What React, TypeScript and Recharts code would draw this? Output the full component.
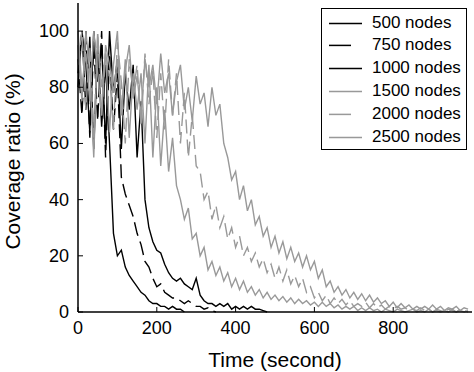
import { LineChart, Line, XAxis, YAxis, Label } from "recharts";

// time grid, one sample every 10 s
const times = Array.from({ length: 100 }, (_, i) => i * 10);

const xTicks = [0, 200, 400, 600, 800];
const yTicks = [0, 20, 40, 60, 80, 100];

// coverage ratio (%) per series
const nodes500 = [
  85, 100, 72, 98, 58, 95, 66, 88, 60, 28, 20, 22, 16, 13, 11, 9, 7, 6, 4, 3,
  3, 2, 2, 1, 2, 1, 1, 0,
];

const nodes750 = [
  90, 70, 100, 62, 95, 68, 100, 55, 92, 65, 85, 48, 42, 38, 34, 28, 24, 18, 16, 12,
  9, 10, 7, 6, 5, 5, 4, 3, 4, 3, 2, 2, 1, 1.5, 0.5, 0,
];

const nodes1000 = [
  80, 100, 88, 64, 100, 82, 95, 60, 100, 78, 90, 58, 85, 72, 88, 55, 75, 40, 30, 25,
  22, 21, 17, 14, 12, 11, 12, 10, 9, 8, 12, 6, 4, 3, 3, 2, 3, 2, 3, 1,
  2, 1, 2, 1, 2, 1, 1, 0.5, 0,
];

const nodes1500 = [
  95, 75, 100, 85, 55, 98, 80, 92, 64, 88, 100, 70, 90, 62, 85, 72, 85, 60, 88, 55,
  80, 52, 72, 50, 62, 45, 40, 33, 37, 26, 28, 20, 23, 15, 18, 13, 16, 11, 14, 9,
  12, 8, 11, 7, 9, 6, 8, 5, 7, 4.5, 6, 4, 5.5, 3.5, 5, 3, 4.5, 3, 4, 2.5,
  3.5, 2, 3.5, 2, 3, 1.5, 2.5, 1, 2, 1, 2, 0.5, 1.5, 0.5, 1.5, 0.5, 1, 0, 1, 0.5,
  0, 1, 0.5, 0, 0.5, 1, 0, 0.5, 0, 1, 0, 0.5, 0, 0.5, 0, 1, 0, 0.5, 0, 0.5,
];

const nodes2000 = [
  88, 100, 72, 95, 62, 100, 70, 92, 84, 65, 96, 82, 60, 90, 78, 88, 66, 92, 74, 86,
  62, 85, 65, 90, 70, 85, 60, 78, 55, 70, 52, 50, 40, 43, 33, 38, 30, 34, 26, 30,
  23, 27, 20, 23, 18, 21, 16, 19, 14, 17, 12, 16, 11, 15, 10, 13, 9, 12, 7, 9,
  5, 7, 4, 6, 3, 5, 3, 4.5, 2.5, 4, 2, 3, 2, 3.5, 1.5, 3, 1.5, 2.5, 1, 2,
  1, 2, 1, 1.5, 0.5, 1, 0.5, 1.5, 0.5, 1, 0, 1, 0.5, 0, 1, 0.5, 0, 1, 0.5, 0,
];

const nodes2500 = [
  100, 80, 92, 75, 100, 85, 70, 95, 88, 78, 90, 72, 86, 95, 76, 84, 70, 90, 80, 88,
  74, 92, 78, 85, 70, 82, 88, 72, 80, 68, 84, 74, 78, 66, 80, 70, 74, 60, 55, 47,
  50, 40, 45, 36, 40, 31, 34, 27, 30, 23, 27, 21, 25, 19, 23, 18, 21, 16, 20, 15,
  18, 12, 15, 9, 11, 7, 9, 6, 8, 5, 7, 4.5, 6.5, 4, 6, 3.5, 5, 3, 4, 2,
  3.5, 1.5, 3, 1.5, 2.5, 1, 2, 1, 2, 1, 2.5, 1, 2, 0.5, 1.5, 1, 2, 0.5, 1.5, 1,
];

const series = [
  { key: "n500", name: "500 nodes", values: nodes500, color: "#000", dash: undefined },
  { key: "n750", name: "750 nodes", values: nodes750, color: "#000", dash: "14 6" },
  { key: "n1000", name: "1000 nodes", values: nodes1000, color: "#000", dash: undefined },
  { key: "n1500", name: "1500 nodes", values: nodes1500, color: "#999", dash: undefined },
  { key: "n2000", name: "2000 nodes", values: nodes2000, color: "#999", dash: "14 6" },
  { key: "n2500", name: "2500 nodes", values: nodes2500, color: "#999", dash: undefined },
];

const data = times.map((t, i) => {
  const row: Record<string, number | null> = { t };
  series.forEach((s) => {
    row[s.key] = i < s.values.length ? s.values[i] : null;
  });
  return row;
});

const FONT = "'Liberation Sans', Arial, Helvetica, sans-serif";
const TICK = 5;

const BottomTick = ({ x, y, payload }: any) => (
  <g>
    <line x1={x} y1={y} x2={x} y2={y - TICK} stroke="#000" />
    <text x={x} y={y + 22} textAnchor="middle" fontSize={18} fill="#000">
      {payload.value}
    </text>
  </g>
);

const TopTick = ({ x, y }: any) => (
  <line x1={x} y1={y} x2={x} y2={y + TICK} stroke="#000" />
);

const LeftTick = ({ x, y, payload }: any) => (
  <g>
    <line x1={x} y1={y} x2={x + TICK} y2={y} stroke="#000" />
    <text x={x - 9} y={y + 6} textAnchor="end" fontSize={18} fill="#000">
      {payload.value}
    </text>
  </g>
);

const RightTick = ({ x, y }: any) => (
  <line x1={x} y1={y} x2={x - TICK} y2={y} stroke="#000" />
);

const axisLine = { stroke: "#000", strokeWidth: 1.5 };

const LegendBox = () => (
  <div
    style={{
      position: "absolute",
      left: 321,
      top: 8,
      width: 146,
      height: 142,
      boxSizing: "border-box",
      border: "1.5px solid #000",
      background: "#fff",
      fontFamily: FONT,
      fontSize: 17,
    }}
  >
    {series.map((s, i) => (
      <div
        key={s.key}
        style={{ position: "absolute", left: 0, top: 2.5 + i * 22.8, height: 22.8, width: "100%" }}
      >
        <svg width={44} height={22.8} style={{ position: "absolute", left: 0, top: 0 }}>
          <line x1={7} x2={s.dash ? 29 : 40} y1={11.4} y2={11.4} stroke={s.color} strokeWidth={1.5} />
        </svg>
        <span style={{ position: "absolute", left: 50, top: 1, lineHeight: "20px", color: "#000" }}>
          {s.name}
        </span>
      </div>
    ))}
  </div>
);

export default function App() {
  return (
    <div style={{ position: "absolute", left: 0, top: 0, width: 474, height: 372, background: "#fff", fontFamily: FONT }}>
      <LineChart width={474} height={372} data={data} margin={{ top: 3, right: 2, bottom: 0, left: 0 }}>
        <XAxis
          xAxisId="b"
          dataKey="t"
          type="number"
          domain={[0, 1000]}
          ticks={xTicks}
          interval={0}
          height={60}
          tickSize={0}
          tickMargin={0}
          tickLine={false}
          axisLine={axisLine}
          tick={<BottomTick />}
        >
          <Label
            content={({ viewBox }: any) => (
              <text x={viewBox.x + viewBox.width / 2} y={viewBox.y + 55} textAnchor="middle" fontSize={21} fill="#000">
                Time (second)
              </text>
            )}
          />
        </XAxis>
        <XAxis
          xAxisId="top"
          orientation="top"
          dataKey="t"
          type="number"
          domain={[0, 1000]}
          ticks={xTicks}
          interval={0}
          height={0}
          tickSize={0}
          tickMargin={0}
          tickLine={false}
          axisLine={axisLine}
          tick={<TopTick />}
        />
        <YAxis
          yAxisId="l"
          type="number"
          domain={[0, 110]}
          ticks={yTicks}
          interval={0}
          width={78}
          tickSize={0}
          tickMargin={0}
          tickLine={false}
          axisLine={axisLine}
          tick={<LeftTick />}
        >
          <Label
            content={({ viewBox }: any) => (
              <text
                transform={`translate(${viewBox.x + 20}, ${viewBox.y + viewBox.height / 2 + 4}) rotate(-90)`}
                textAnchor="middle"
                fontSize={21}
                fill="#000"
              >
                Coverage ratio (%)
              </text>
            )}
          />
        </YAxis>
        <YAxis
          yAxisId="r"
          orientation="right"
          type="number"
          domain={[0, 110]}
          ticks={yTicks}
          interval={0}
          width={0}
          tickSize={0}
          tickMargin={0}
          tickLine={false}
          axisLine={axisLine}
          tick={<RightTick />}
        />
        {series.map((s) => (
          <Line
            key={s.key}
            xAxisId="b"
            yAxisId="l"
            type="linear"
            dataKey={s.key}
            name={s.name}
            stroke={s.color}
            strokeWidth={1.4}
            strokeDasharray={s.dash}
            dot={false}
            activeDot={false}
            isAnimationActive={false}
          />
        ))}
      </LineChart>
      <LegendBox />
    </div>
  );
}
